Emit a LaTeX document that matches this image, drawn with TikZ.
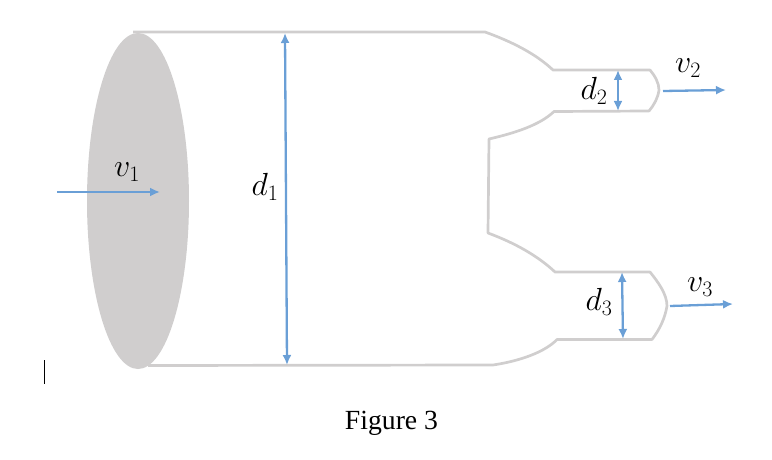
\documentclass[tikz,border=0pt]{standalone}
\usepackage{fix-cm}
\usepackage{fontspec}
\setmainfont{Liberation Serif}
\usetikzlibrary{arrows.meta,shapes.geometric}
\DeclareMathSizes{32}{32}{22}{16}
\definecolor{wall}{HTML}{D0CECE}
\definecolor{flow}{HTML}{6A9FD6}
\tikzset{
  wallline/.style={draw=wall,line width=2.7pt,line join=round},
  flowarrow/.style={draw=flow,line width=2.3pt,-{Latex[length=10pt,width=9pt]}},
  dimarrow/.style={draw=flow,line width=2.3pt,{Latex[length=10pt,width=9pt]}-{Latex[length=10pt,width=9pt]}},
  mathlabel/.style={inner sep=0pt,font=\fontsize{32}{34}\selectfont,text=black}
}
\begin{document}
\begin{tikzpicture}[x=1pt,y=-1pt]
\useasboundingbox (0,0) rectangle (772,460);
% pipe outline
\draw[wallline] (133,32) -- (485,32) .. controls (510,41) and (535,53) .. (553,70) -- (650,70)
  .. controls (655,76) and (659,83) .. (659,90) .. controls (658,98) and (654,105) .. (649,111)
  -- (554,111.5) .. controls (540,125) and (515,133) .. (489,139) -- (488,233)
  .. controls (515,243) and (538,256) .. (555,272) -- (650,272)
  .. controls (658,282) and (667,294) .. (667,306) .. controls (665,318) and (660,329) .. (652,339.5)
  -- (557,339.5) .. controls (545,352) and (520,361) .. (493,365) -- (148,365.5);
% inlet disc
\node[ellipse,fill=wall,minimum width=102pt,minimum height=336pt,inner sep=0pt] (disc) at (138,201) {};
% free ends of the arrows
\coordinate (d1a) at (285,33);
\coordinate (d1b) at (287,365);
\coordinate (d2a) at (618,70);
\coordinate (d2b) at (618,111);
\coordinate (d3a) at (622,272);
\coordinate (d3b) at (623,339);
\coordinate (v1a) at (57,192);
\coordinate (v1b) at (160,192);
\coordinate (v2a) at (663,91);
\coordinate (v2b) at (726,90);
\coordinate (v3a) at (670,306);
\coordinate (v3b) at (733,304);
\draw[dimarrow] (d1a) -- (d1b);
\draw[dimarrow] (d2a) -- (d2b);
\draw[dimarrow] (d3a) -- (d3b);
\draw[flowarrow] (v1a) -- (v1b);
\draw[flowarrow] (v2a) -- (v2b);
\draw[flowarrow] (v3a) -- (v3b);
% labels
\node[mathlabel] (ld1) at (265,187) {$d_1$};
\node[mathlabel] (ld2) at (594,91) {$d_2$};
\node[mathlabel] (ld3) at (599,302) {$d_3$};
\node[mathlabel] (lv1) at (127,172) {$v_1$};
\node[mathlabel] (lv2) at (688,68) {$v_2$};
\node[mathlabel] (lv3) at (700,287) {$v_3$};
\node[inner sep=0pt,font=\fontsize{27.7}{30}\selectfont] (cap) at (391.5,423) {Figure 3};
% text cursor
\coordinate (cura) at (44.5,360);
\coordinate (curb) at (44.5,384);
\draw[black,line width=1.6pt] (cura) -- (curb);
\end{tikzpicture}
\end{document}
